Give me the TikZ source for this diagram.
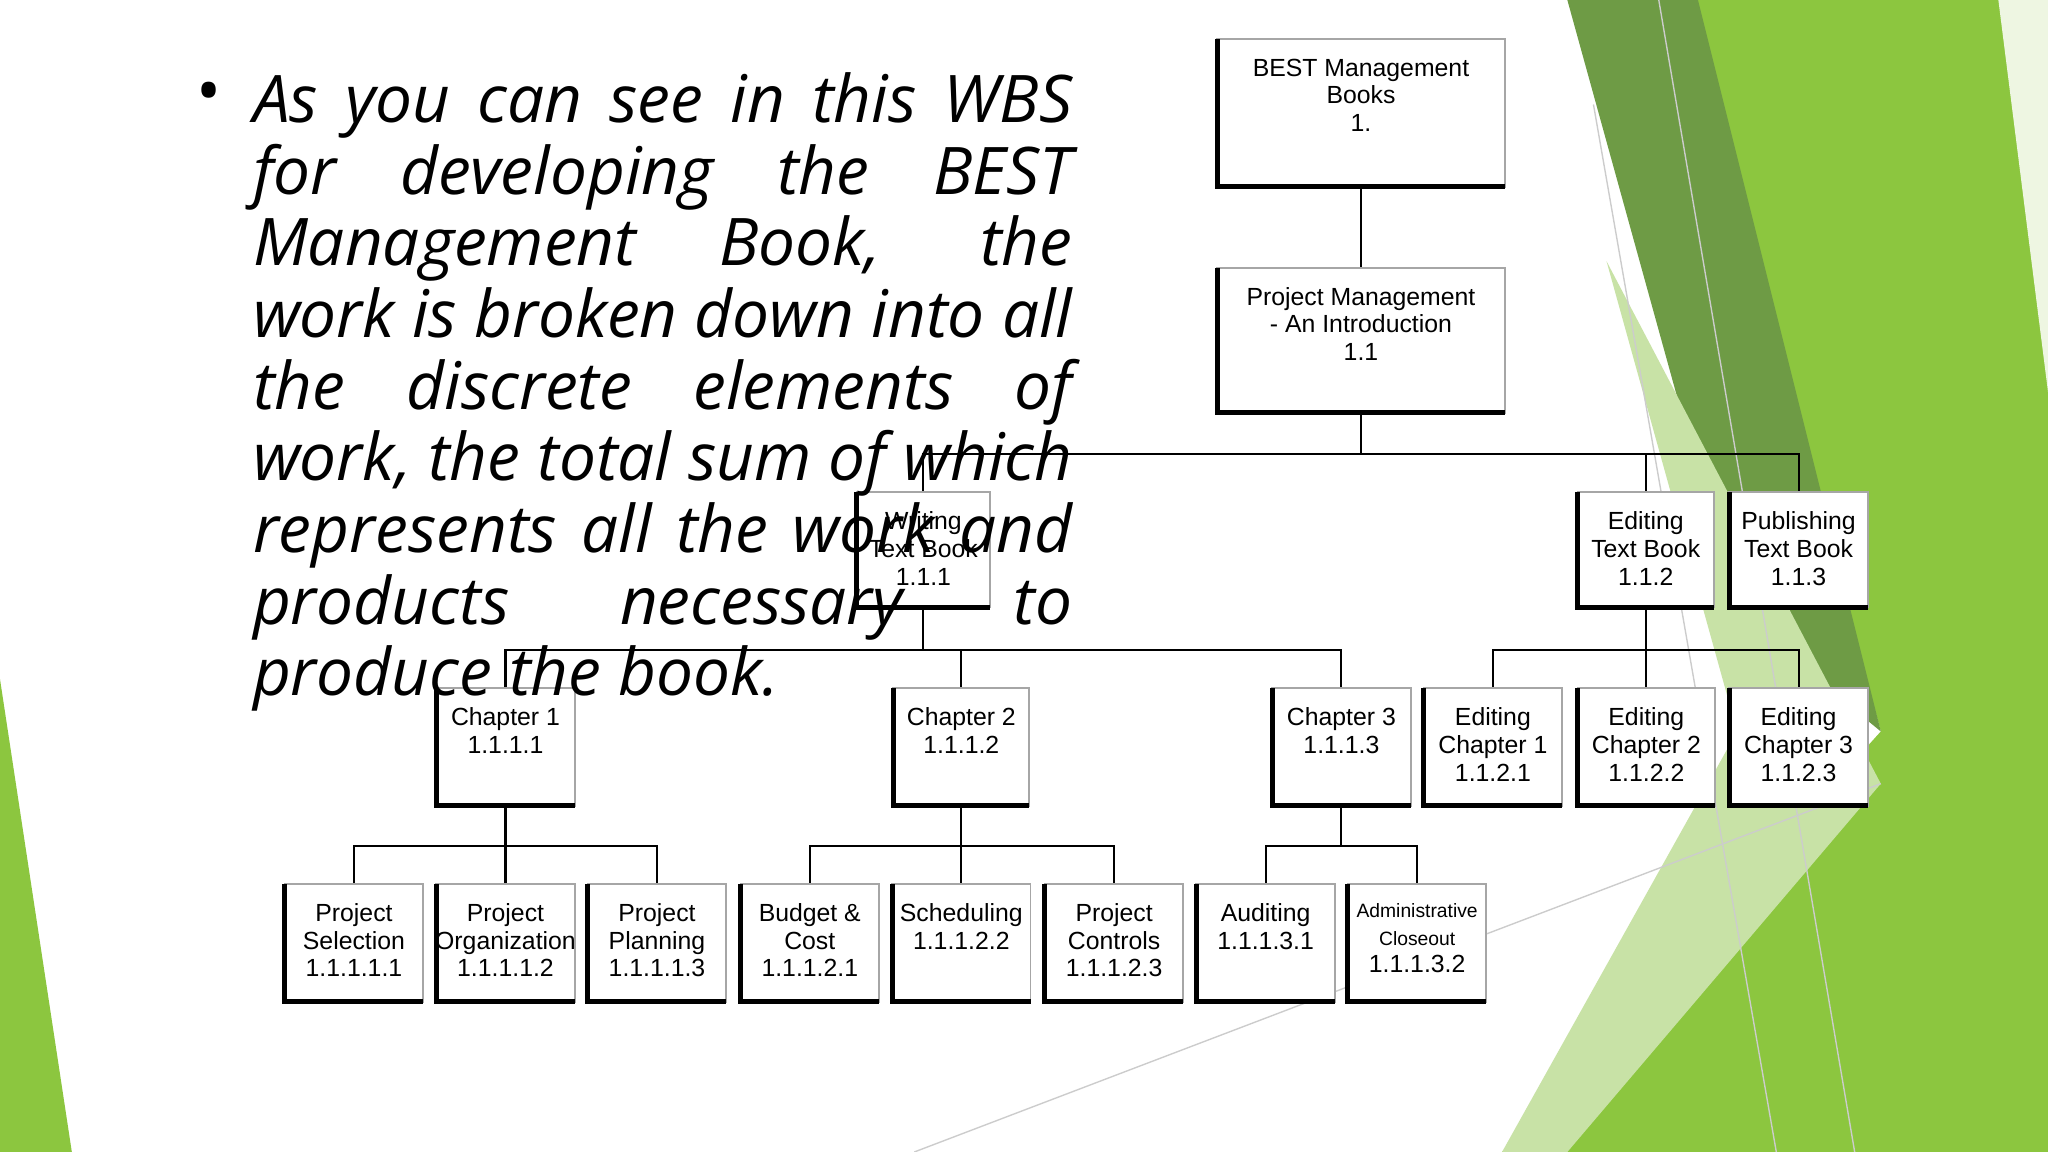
\documentclass[tikz,border=0pt]{standalone}
\usepackage{fontspec}
\setmainfont{Open Sans}
\newfontfamily\boxfont{Liberation Sans}
\usetikzlibrary{positioning}
\definecolor{leafgreen}{HTML}{8CC63F}
\definecolor{darkleaf}{HTML}{6E9B45}
\definecolor{paleleaf}{HTML}{C8E2A6}
\tikzset{
  wbox/.style={draw=gray!70, line width=.4pt, fill=white, inner sep=0pt},
  wtext/.style={anchor=north, inner sep=0pt, align=center, font=\boxfont\fontsize{5.4}{6}\selectfont},
  bus/.style={line width=.45pt}
}
% box: name, x1, y1, x2, y2, text
\newcommand{\wbsbox}[6]{%
  \node[wbox, minimum width={(#4-#2)*0.01cm}, minimum height={(#5-#3)*0.01cm}] (#1) at ({(#2+#4)/2},{(#3+#5)/2}) {};
  \draw[line width=1.1pt] (#2,#3) -- (#2,#5) -- (#4,#5);
  \node[wtext] (#1t) at ([yshift=-0.15cm]#1.north) {#6};
}
\begin{document}
\begin{tikzpicture}[x=0.01cm, y=-0.01cm]
\useasboundingbox (0,0) rectangle (1568,882);
\fill[white] (0,0) rectangle (1568,882);

% background leaves
\fill[leafgreen] (1290,0) -- (1568,0) -- (1568,882) -- (1150,882) -- (1440,560) -- cycle;
\fill[darkleaf] (1200,0) -- (1300,0) -- (1440,560) -- (1330,470) -- cycle;
\fill[paleleaf] (1230,200) -- (1440,600) -- (1200,882) -- (1150,882) -- (1330,560) -- cycle;
\fill[white!85!leafgreen] (1530,0) -- (1568,0) -- (1568,300) -- cycle;
\fill[leafgreen] (0,520) -- (55,882) -- (0,882) -- cycle;
\draw[gray!40, line width=.3pt] (1220,80) -- (1360,882);
\draw[gray!40, line width=.3pt] (1270,0) -- (1420,882);
\draw[gray!40, line width=.3pt] (700,882) -- (1440,600);

% level 1 and 2
\wbsbox{best}{932}{30}{1152}{143}{BEST Management\\Books\\1.}
\wbsbox{pm}{932}{205}{1152}{316}{Project Management\\- An Introduction\\1.1}

% level 3
\wbsbox{wtb}{656}{377}{758}{465}{Writing\\Text Book\\1.1.1}
\wbsbox{etb}{1208}{377}{1312}{465}{Editing\\Text Book\\1.1.2}
\wbsbox{ptb}{1324}{377}{1430}{465}{Publishing\\Text Book\\1.1.3}

% level 4
\wbsbox{ch1}{334}{527}{440}{617}{Chapter 1\\1.1.1.1}
\wbsbox{ch2}{684}{527}{788}{617}{Chapter 2\\1.1.1.2}
\wbsbox{ch3}{974}{527}{1080}{617}{Chapter 3\\1.1.1.3}
\wbsbox{ec1}{1090}{527}{1196}{617}{Editing\\Chapter 1\\1.1.2.1}
\wbsbox{ec2}{1208}{527}{1313}{617}{Editing\\Chapter 2\\1.1.2.2}
\wbsbox{ec3}{1324}{527}{1430}{617}{Editing\\Chapter 3\\1.1.2.3}

% level 5
\wbsbox{ps}{218}{677}{324}{767}{Project\\Selection\\1.1.1.1.1}
\wbsbox{po}{334}{677}{440}{767}{Project\\Organization\\1.1.1.1.2}
\wbsbox{pp}{450}{677}{556}{767}{Project\\Planning\\1.1.1.1.3}
\wbsbox{bc}{567}{677}{673}{767}{Budget \&\\Cost\\1.1.1.2.1}
\wbsbox{sch}{683}{677}{789}{767}{Scheduling\\1.1.1.2.2}
\wbsbox{pc}{800}{677}{906}{767}{Project\\Controls\\1.1.1.2.3}
\wbsbox{aud}{916}{677}{1022}{767}{Auditing\\1.1.1.3.1}
\wbsbox{ac}{1032}{677}{1138}{767}{{\fontsize{4.2}{6}\selectfont Administrative}\\{\fontsize{4.2}{6}\selectfont Closeout}\\1.1.1.3.2}

% connectors
\draw[bus] (best.south) -- (pm.north);
\foreach \c in {wtb,etb,ptb}
  \draw[bus] (pm.south) -- ++(0,31) -| (\c.north);
\foreach \c in {ch1,ch2,ch3}
  \draw[bus] (wtb.south) -- ++(0,32) -| (\c.north);
\foreach \c in {ec1,ec2,ec3}
  \draw[bus] (etb.south) -- ++(0,32) -| (\c.north);
\foreach \c in {ps,po,pp}
  \draw[bus] (ch1.south) -- ++(0,30) -| (\c.north);
\foreach \c in {bc,sch,pc}
  \draw[bus] (ch2.south) -- ++(0,30) -| (\c.north);
\foreach \c in {aud,ac}
  \draw[bus] (ch3.south) -- ++(0,30) -| (\c.north);

% slide text
\node[anchor=north west, inner sep=0pt] (bullet) at (150,62) {\fontsize{14.5}{15.6}\selectfont •};
\node[anchor=north west, inner sep=0pt, text width=6.27cm, align=justify,
  font=\itshape\fontsize{14.3}{15.6}\selectfont] (para) at (193,55)
  {As you can see in this WBS\linebreak for developing the BEST\linebreak Management Book, the\linebreak work is broken down into all\linebreak the discrete elements of\linebreak work, the total sum of which\linebreak represents all the work and\linebreak products necessary to\linebreak produce the book.};
\end{tikzpicture}
\end{document}
